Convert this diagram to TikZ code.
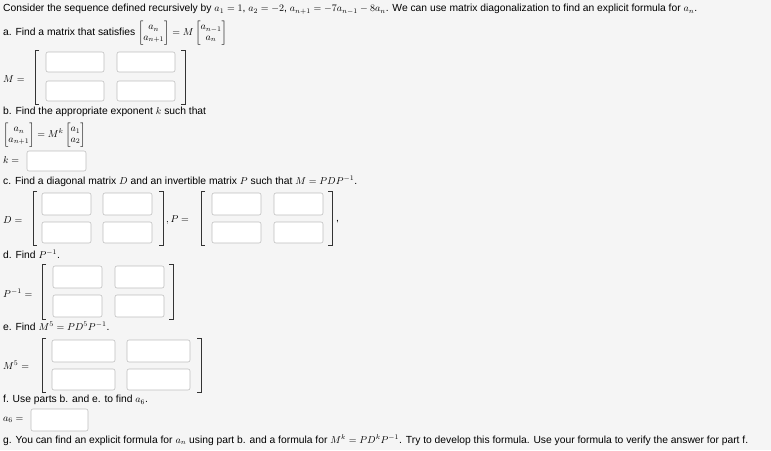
\documentclass[tikz,border=0pt]{standalone}
\usepackage{amsmath}
\usepackage{fontspec}
\setmainfont{Liberation Sans}
\begin{document}
\begin{tikzpicture}[x=1pt,y=-1pt,
  txt/.style={anchor=west,inner sep=0pt,font=\fontsize{10.3}{12}\selectfont},
  ibox/.style={draw=black!25,fill=white,rounded corners=2pt,line width=0.6pt},
  brk/.style={line width=0.8pt,black!80}]
\fill[black!4] (0,0) rectangle (771,450);
\useasboundingbox (0,0) rectangle (771,450);
\node[txt] (l1) at (3,9) {Consider the sequence defined recursively by $a_1=1$, $a_2=-2$, $a_{n+1}=-7a_{n-1}-8a_n$. We can use matrix diagonalization to find an explicit formula for $a_n$.};
\node[txt] (la) at (3,33) {a. Find a matrix that satisfies $\renewcommand\arraystretch{0.85}\begin{bmatrix}a_n\\a_{n+1}\end{bmatrix}=M\begin{bmatrix}a_{n-1}\\a_n\end{bmatrix}$};
% M
\node[txt] (mlab) at (3,79) {$M=$};
\newcommand\mybrk[4]{% x1,x2,ytop,ybot
  \draw[brk] (#1+4,#3)--(#1,#3)--(#1,#4)--(#1+4,#4);
  \draw[brk] (#2-4,#3)--(#2,#3)--(#2,#4)--(#2-4,#4);}
\mybrk{35}{185}{50}{104}
\draw[ibox] (46,52) rectangle (104,72); \draw[ibox] (117,52) rectangle (175,72);
\draw[ibox] (46,81) rectangle (104,101); \draw[ibox] (117,81) rectangle (175,101);
\node[txt] (lb) at (3,112) {b. Find the appropriate exponent $k$ such that};
\node[txt] (lb2) at (3,135) {$\renewcommand\arraystretch{0.85}\begin{bmatrix}a_n\\a_{n+1}\end{bmatrix}=M^k\begin{bmatrix}a_1\\a_2\end{bmatrix}$};
\node[txt] (klab) at (3,160) {$k=$};
\draw[ibox] (27,151) rectangle (86,171);
\node[txt] (lc) at (3,181) {c. Find a diagonal matrix $D$ and an invertible matrix $P$ such that $M=PDP^{-1}$.};
\node[txt] (dlab) at (3,220) {$D=$};
\mybrk{33}{163}{191}{245}
\draw[ibox] (42,193) rectangle (91,215); \draw[ibox] (103,193) rectangle (152,215);
\draw[ibox] (42,222) rectangle (91,243); \draw[ibox] (103,222) rectangle (152,243);
\node[txt] (plab) at (166,220) {$,P=$};
\mybrk{201}{332}{191}{245}
\draw[ibox] (212,193) rectangle (261,215); \draw[ibox] (274,193) rectangle (323,215);
\draw[ibox] (212,222) rectangle (261,243); \draw[ibox] (274,222) rectangle (323,243);
\node[txt] (pcomma) at (336,222) {,};
\node[txt] (ld) at (3,254) {d. Find $P^{-1}$.};
\node[txt] (pilab) at (3,293) {$P^{-1}=$};
\mybrk{42}{173}{264}{319}
\draw[ibox] (53,266) rectangle (102,288); \draw[ibox] (115,266) rectangle (164,288);
\draw[ibox] (53,295) rectangle (102,317); \draw[ibox] (115,295) rectangle (164,317);
\node[txt] (le) at (3,326) {e. Find $M^5=PD^5P^{-1}$.};
\node[txt] (m5lab) at (3,365) {$M^5=$};
\mybrk{42}{201}{338}{392}
\draw[ibox] (52,340) rectangle (115,362); \draw[ibox] (127,340) rectangle (190,362);
\draw[ibox] (52,369) rectangle (115,390); \draw[ibox] (127,369) rectangle (190,390);
\node[txt] (lf) at (3,400) {f. Use parts b. and e. to find $a_6$.};
\node[txt] (a6lab) at (3,420) {$a_6=$};
\draw[ibox] (31,409) rectangle (88,431);
\node[txt] (lg) at (3,440) {g. You can find an explicit formula for $a_n$ using part b. and a formula for $M^k=PD^kP^{-1}$. Try to develop this formula. Use your formula to verify the answer for part f.};
\end{tikzpicture}
\end{document}
